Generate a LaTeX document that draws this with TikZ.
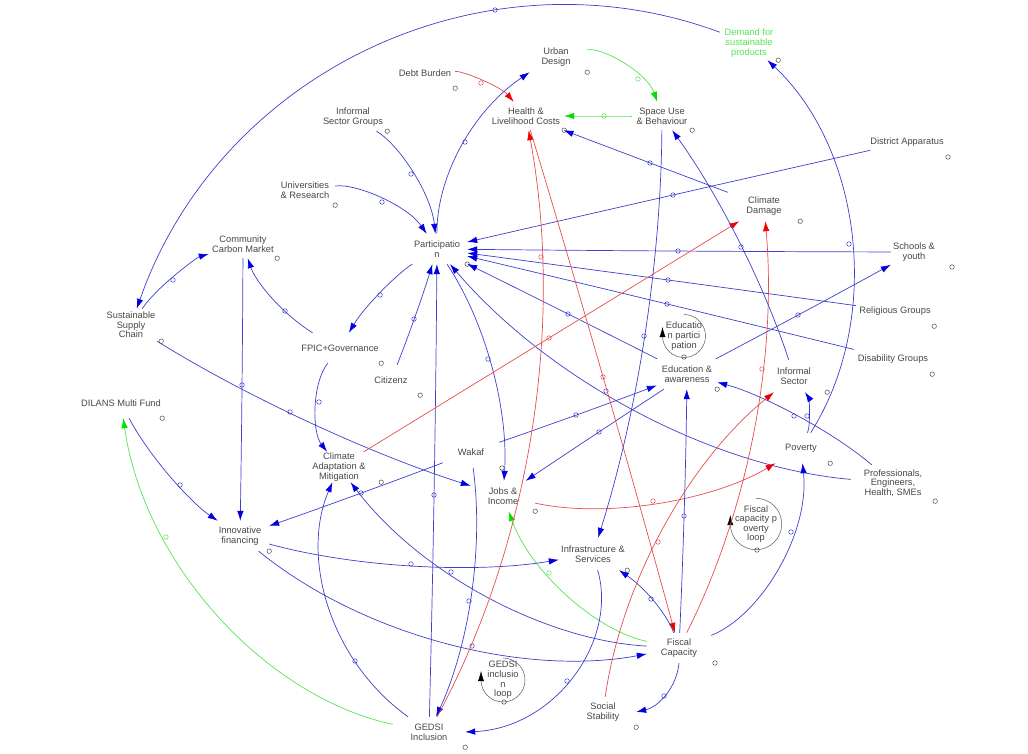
\documentclass[tikz,border=0pt]{standalone}
\usepackage{fontspec}
\setmainfont{Liberation Sans}
\usetikzlibrary{arrows.meta,calc}
\definecolor{linkblue}{RGB}{62,62,205}
\definecolor{linkred}{RGB}{232,76,76}
\definecolor{linkgreen}{RGB}{84,228,84}
\definecolor{tipblue}{RGB}{0,0,225}
\definecolor{tipred}{RGB}{240,0,0}
\definecolor{tipgreen}{RGB}{0,225,0}
\tikzset{
    varnode/.style 2 args={align=center,inner sep=0pt,minimum width=#1pt,minimum height=#2pt,
        text=black!72,font=\fontsize{9.3}{9.6}\selectfont},
    smalldot/.style={circle,draw=black!70,line width=0.5pt,inner sep=0pt,minimum size=4.5pt},
    hnd/.style={circle,draw=#1,fill=white,line width=0.5pt,inner sep=0pt,minimum size=4.5pt},
    link/.style={draw=#1,line width=0.7pt},
    blueend/.style={-{Latex[length=10pt,width=6.5pt,color=tipblue]}},
    redend/.style={-{Latex[length=10pt,width=6.5pt,color=tipred]}},
    greenend/.style={-{Latex[length=10pt,width=6.5pt,color=tipgreen]}},
    looparc/.style={draw=black!65,line width=0.5pt,-{Latex[length=10pt,width=6pt,color=black]}}
}
\newcounter{lnkcount}
\newcommand{\lnk}[5]{%
    \stepcounter{lnkcount}
    \node[hnd=#1] (h\arabic{lnkcount}) at (#5) {};
    \draw[link=#1,#2] let \p1=(#3),\p2=(h\arabic{lnkcount}),\p3=(#4),
        \n1={atan2(\y3-\y1,\x3-\x1)},\n2={atan2(\y2-\y1,\x2-\x1)},
        \n3={atan2(\y1-\y3,\x1-\x3)},\n4={atan2(\y2-\y3,\x2-\x3)},
        \n5={atan2(sin(\n2-\n1),cos(\n2-\n1))+atan2(sin(\n3-\n4),cos(\n3-\n4))},
        \n6={veclen(\x3-\x1,\y3-\y1)/(3*cos(\n5/2)*cos(\n5/2))}
    in (#3) .. controls ($(\p1)+(\n1+\n5:\n6)$) and ($(\p3)+(\n3-\n5:\n6)$) .. (#4);
}
\begin{document}
\begin{tikzpicture}[x=1pt,y=-1pt]
    \useasboundingbox (0,0) rectangle (1028,753);
    \node[varnode={58}{34},text=linkgreen] (demand) at (749,43) {Demand for\\sustainable\\products};
    \node[varnode={62}{30}] (urban) at (556,57) {Urban\\Design};
    \node[varnode={60}{30}] (debt) at (425,73) {Debt Burden};
    \node[varnode={76}{28}] (health) at (526,116) {Health \&\\Livelihood Costs};
    \node[varnode={60}{28}] (space) at (662,116) {Space Use\\\& Behaviour};
    \node[varnode={68}{28}] (sectorgroups) at (353,117) {Informal\\Sector Groups};
    \node[varnode={64}{30}] (district) at (907,142) {District Apparatus};
    \node[varnode={72}{30}] (damage) at (764,206) {Climate\\Damage};
    \node[varnode={60}{30}] (univ) at (305,190) {Universities\\\& Research};
    \node[varnode={60}{30}] (part) at (437,249) {Participatio\\n};
    \node[varnode={68}{28}] (carbon) at (243,244) {Community\\Carbon Market};
    \node[varnode={46}{30}] (schools) at (914,252) {Schools \&\\youth};
    \node[varnode={60}{32}] (supply) at (131,325) {Sustainable\\Supply\\Chain};
    \node[varnode={78}{30}] (religious) at (895,311) {Religious Groups};
    \node[varnode={78}{30}] (disability) at (893,359) {Disability Groups};
    \node[varnode={82}{30}] (fpic) at (340,348) {FPIC+Governance};
    \node[varnode={58}{30}] (citizen) at (391,380) {Citizenz};
    \node[varnode={60}{30}] (edu) at (687,374) {Education \&\\awareness};
    \node[varnode={66}{32}] (informal) at (794,376) {Informal\\Sector};
    \node[varnode={82}{30}] (dilans) at (121,403) {DILANS Multi Fund};
    \node[varnode={58}{30}] (poverty) at (801,448) {Poverty};
    \node[varnode={56}{32}] (wakaf) at (471,452) {Wakaf};
    \node[varnode={84}{30}] (adapt) at (339,467) {Climate\\Adaptation \&\\Mitigation};
    \node[varnode={84}{36}] (prof) at (893,483) {Professionals,\\Engineers,\\Health, SMEs};
    \node[varnode={64}{30}] (jobs) at (503,496) {Jobs \&\\Income};
    \node[varnode={58}{30}] (innov) at (240,536) {Innovative\\financing};
    \node[varnode={68}{32}] (infra) at (593,554) {Infrastructure \&\\Services};
    \node[varnode={64}{30}] (fiscal) at (679,648) {Fiscal\\Capacity};
    \node[varnode={66}{30}] (social) at (603,712) {Social\\Stability};
    \node[varnode={72}{30}] (gedsi) at (429,732) {GEDSI\\Inclusion};
    \foreach \n in {demand,urban,debt,health,space,sectorgroups,damage,univ,part,
        carbon,supply,religious,disability,fpic,citizen,edu,informal,dilans,poverty,
        adapt,prof,jobs,innov,infra,social,gedsi}{
        \node[smalldot] (dot-\n) at (\n.south east) {};
    }
    \node[smalldot] (dot-district) at (948,157) {};
    \node[smalldot] (dot-schools) at (952,267) {};
    \node[smalldot] (dot-wakaf) at (502,468) {};
    \node[smalldot] (dot-fiscal) at (715,663) {};
    \node[varnode={0}{0}] (eduloop) at (684,336) {Educatio\\n partici\\pation};
    \node[varnode={0}{0}] (fiscalloop) at (756,524) {Fiscal\\capacity p\\overty\\loop};
    \node[varnode={0}{0}] (gedsiloop) at (503,680) {GEDSI\\inclusio\\n\\loop};
    \draw[looparc] ($(eduloop)+(90:21.5pt)$) arc[start angle=90,end angle=-180,radius=21.5pt] -- ++(0,-9);
    \draw[looparc] ($(fiscalloop)+(90:25.7pt)$) arc[start angle=90,end angle=-180,radius=25.7pt] -- ++(0,-9);
    \draw[looparc] ($(gedsiloop)+(90:22pt)$) arc[start angle=90,end angle=-180,radius=22pt] -- ++(0,-9);
    \node[smalldot] (dot-eduloop) at (684,357) {};
    \node[smalldot] (dot-fiscalloop) at (757,550) {};
    \node[smalldot] (dot-gedsiloop) at (504,702) {};
    \node[hnd=linkblue] (h0) at (495,10) {};
    \draw[link=linkblue,blueend] (demand) .. controls (484,-55) and (220,71) .. (supply);
    \lnk{linkblue}{blueend}{poverty}{demand}{849,244}
    \lnk{linkgreen}{greenend}{urban}{space}{638,79}
    \lnk{linkgreen}{greenend}{space}{health}{604,116}
    \lnk{linkred}{redend}{debt}{health}{481,83}
    \lnk{linkblue}{blueend}{part}{urban.-150}{465,142}
    \lnk{linkblue}{blueend}{sectorgroups}{part}{411,174}
    \lnk{linkblue}{blueend}{univ}{part}{382,202}
    \lnk{linkblue}{blueend}{district}{part}{673,195}
    \lnk{linkblue}{blueend}{schools}{part}{678,251}
    \lnk{linkblue}{blueend}{religious}{part}{668,280}
    \lnk{linkblue}{blueend}{disability}{part}{667,304}
    \lnk{linkblue}{blueend}{edu}{part}{568,314}
    \lnk{linkblue}{blueend}{prof}{part}{606,391}
    \lnk{linkblue}{blueend}{part}{fpic}{380,295}
    \lnk{linkblue}{blueend}{part}{jobs}{488,359}
    \lnk{linkblue}{blueend}{citizen}{part}{414,319}
    \lnk{linkblue}{blueend}{gedsi}{part}{434,495}
    \lnk{linkblue}{blueend}{supply}{carbon}{173,280}
    \lnk{linkblue}{blueend}{carbon}{innov}{242,385}
    \lnk{linkblue}{blueend}{fpic.151}{carbon}{285,311}
    \lnk{linkblue}{blueend}{supply}{jobs}{290,412}
    \lnk{linkblue}{blueend}{fpic}{adapt}{319,402}
    \lnk{linkblue}{blueend}{dilans}{innov}{180,485}
    \lnk{linkgreen}{greenend}{gedsi}{dilans}{166,537}
    \lnk{linkblue}{blueend}{wakaf}{innov}{361,493}
    \lnk{linkblue}{blueend}{wakaf}{edu}{576,415}
    \lnk{linkblue}{blueend}{edu}{jobs}{599,432}
    \lnk{linkblue}{blueend}{wakaf}{gedsi}{469,601}
    \lnk{linkred}{redend}{jobs}{poverty}{653,501}
    \lnk{linkgreen}{greenend}{fiscal}{jobs}{549,573}
    \lnk{linkblue}{blueend}{innov}{infra}{411,564}
    \lnk{linkblue}{blueend}{innov}{fiscal}{472,646}
    \lnk{linkblue}{blueend}{fiscal}{adapt}{451,572}
    \lnk{linkred}{redend}{adapt}{damage}{549,338}
    \lnk{linkblue}{blueend}{gedsi.144}{adapt}{355,661}
    \lnk{linkred}{redend}{gedsi}{health}{541,257}
    \lnk{linkred}{redend}{health}{fiscal}{603,377}
    \lnk{linkblue}{blueend}{fiscal}{infra.-32}{651,599}
    \lnk{linkblue}{blueend}{fiscal}{edu}{684,516}
    \lnk{linkblue}{blueend}{fiscal}{poverty}{791,532}
    \lnk{linkred}{redend}{fiscal}{damage}{762,369}
    \lnk{linkred}{redend}{social}{informal}{658,542}
    \lnk{linkblue}{blueend}{fiscal.south}{social.east}{664,696}
    \lnk{linkblue}{blueend}{infra}{gedsi.east}{567,681}
    \lnk{linkblue}{blueend}{space}{infra}{644,336}
    \lnk{linkblue}{blueend}{informal}{space}{741,247}
    \lnk{linkblue}{blueend}{damage}{health}{650,163}
    \lnk{linkblue}{blueend}{edu}{schools}{798,315}
    \lnk{linkblue}{blueend}{poverty}{informal}{807,416}
    \lnk{linkblue}{blueend}{prof}{edu}{794,416}
\end{tikzpicture}
\end{document}
